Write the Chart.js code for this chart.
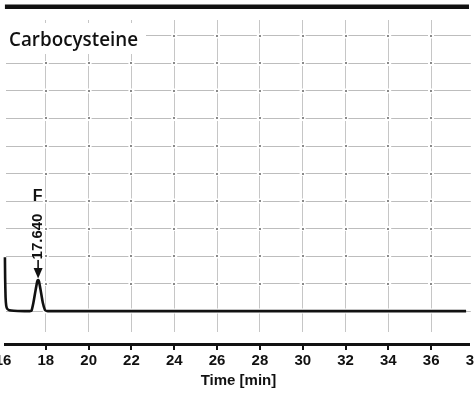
<!DOCTYPE html>
<html><head><meta charset="utf-8">
<script src="https://cdn.jsdelivr.net/npm/chart.js@4.4.1/dist/chart.umd.min.js"></script>
<style>html,body{margin:0;padding:0;background:#fff;overflow:hidden}#wrap{width:474px;height:398px;position:relative}canvas{display:block}</style>
</head><body><div id="wrap"><canvas id="c" width="474" height="398"></canvas></div>
<script>
// ---- data ----
const chartTitle = 'Carbocysteine';
const axisTitle = 'Time [min]';
const xTickValues = [16,18,20,22,24,26,28,30,32,34,36,38];
const yGridValues = [0,1,2,3,4,5,6,7,8,9,10];
const timeMin = [16.09,16.10,16.12,16.15,16.20,16.30,16.50,17.00,17.25,17.33,17.42,17.52,17.60,17.64,17.68,17.76,17.86,17.96,18.05,18.20,19.0,22.0,26.0,30.0,34.0,37.63];
const signal  = [1.96, 1.20, 0.50, 0.20, 0.08, 0.03, 0.01, 0.00, 0.00, 0.01, 0.30, 0.75, 1.08, 1.13, 1.08, 0.75, 0.30, 0.04, 0.00, 0.00, 0.0, 0.0, 0.0, 0.0, 0.0, 0.0];
const peakTime = 17.64;
const peakHeight = 1.13;
const peakName = 'F';
const peakTimeLabel = '17.640';
const xMin = 16, xMax = 38, yMin = -0.76, yMax = 10.58;

const INK = '#111';

const deco = {
  id: 'deco',
  afterDraw(chart) {
    const ctx = chart.ctx, xs = chart.scales.x, ys = chart.scales.y, ca = chart.chartArea;
    ctx.save();
    // intersection dots
    ctx.fillStyle = '#8a8a8a';
    xTickValues.forEach(v => {
      if (v <= xMin || v >= xMax) return;
      const px = xs.getPixelForValue(v);
      yGridValues.forEach(g => {
        if (g === 0) return;
        const py = ys.getPixelForValue(g);
        ctx.fillRect(Math.round(px) - 1, Math.round(py) - 1, 2, 2);
      });
    });
    // title with white background
    ctx.fillStyle = '#fff';
    ctx.fillRect(0, 23, 146, 31);
    ctx.fillStyle = INK;
    ctx.font = '600 19px "Open Sans", "Noto Sans", sans-serif';
    ctx.textAlign = 'left';
    ctx.textBaseline = 'alphabetic';
    ctx.fillText(chartTitle, 9, 45.5, 129);
    // top border
    const left = xs.getPixelForValue(timeMin[0]);
    ctx.fillStyle = INK;
    ctx.fillRect(left, 4.5, ca.right - 5 - left, 4.5);
    // bottom axis line with tick marks
    ctx.fillRect(4, 343, 466, 3);
    xTickValues.forEach(v => {
      if (v <= xMin || v >= xMax) return;
      const px = xs.getPixelForValue(v);
      ctx.fillRect(Math.round(px) - 1, 345, 2, 5);
    });
    // peak annotation
    const px = xs.getPixelForValue(peakTime), py = ys.getPixelForValue(peakHeight);
    ctx.strokeStyle = INK; ctx.lineWidth = 1.6;
    ctx.beginPath(); ctx.moveTo(px, py - 20); ctx.lineTo(px, py - 10); ctx.stroke();
    ctx.beginPath(); ctx.moveTo(px - 4.5, py - 12); ctx.lineTo(px + 4.5, py - 12); ctx.lineTo(px, py - 1.5); ctx.closePath(); ctx.fill();
    ctx.font = 'bold 15px "Liberation Sans", Arial, sans-serif';
    ctx.textAlign = 'center'; ctx.textBaseline = 'middle';
    ctx.save();
    ctx.translate(px - 1, py - 43.5);
    ctx.rotate(-Math.PI / 2);
    ctx.fillText(peakTimeLabel, 0, 1);
    ctx.restore();
    ctx.font = 'bold 16px "Liberation Sans", Arial, sans-serif';
    ctx.fillText(peakName, px - 0.5, py - 83);
    ctx.restore();
  }
};

new Chart(document.getElementById('c'), {
  type: 'line',
  data: {
    datasets: [{
      data: timeMin.map((t, i) => ({ x: t, y: signal[i] })),
      borderColor: INK,
      borderWidth: 2.6,
      pointRadius: 0,
      fill: false,
      tension: 0.15
    }]
  },
  options: {
    responsive: false,
    animation: false,
    devicePixelRatio: 1,
    layout: { padding: { left: 3, right: 0, top: 20, bottom: 8.5 } },
    plugins: { legend: { display: false }, tooltip: { enabled: false }, title: { display: false } },
    scales: {
      x: {
        type: 'linear', min: xMin, max: xMax,
        afterBuildTicks: s => { s.ticks = xTickValues.map(v => ({ value: v })); },
        afterFit: s => { s.paddingLeft = 0; s.paddingRight = 0; s.height = 57.5; },
        grid: {
          drawTicks: false, lineWidth: 1,
          color: c => (c.tick && (c.tick.value <= xMin || c.tick.value >= xMax)) ? 'rgba(0,0,0,0)' : '#c6c6c6'
        },
        border: { display: false, dash: [22.5, 5], dashOffset: 9 },
        ticks: {
          autoSkip: false, maxRotation: 0, padding: 20, color: INK,
          font: { family: '"Liberation Sans", Arial, sans-serif', size: 15, weight: 'bold' },
          callback: v => String(v)
        },
        title: {
          display: true, text: axisTitle, color: INK, padding: { top: 1.5, bottom: 0 },
          font: { family: '"Liberation Sans", Arial, sans-serif', size: 15, weight: 'bold' }
        }
      },
      y: {
        type: 'linear', min: yMin, max: yMax,
        afterBuildTicks: s => { s.ticks = yGridValues.map(v => ({ value: v })); },
        afterFit: s => { s.width = 0; },
        grid: { drawTicks: false, lineWidth: 1, color: '#bdbdbd' },
        border: { display: false, dash: [36.8, 6], dashOffset: 39.8 },
        ticks: { display: false }
      }
    }
  },
  plugins: [deco]
});
</script>
</body></html>
